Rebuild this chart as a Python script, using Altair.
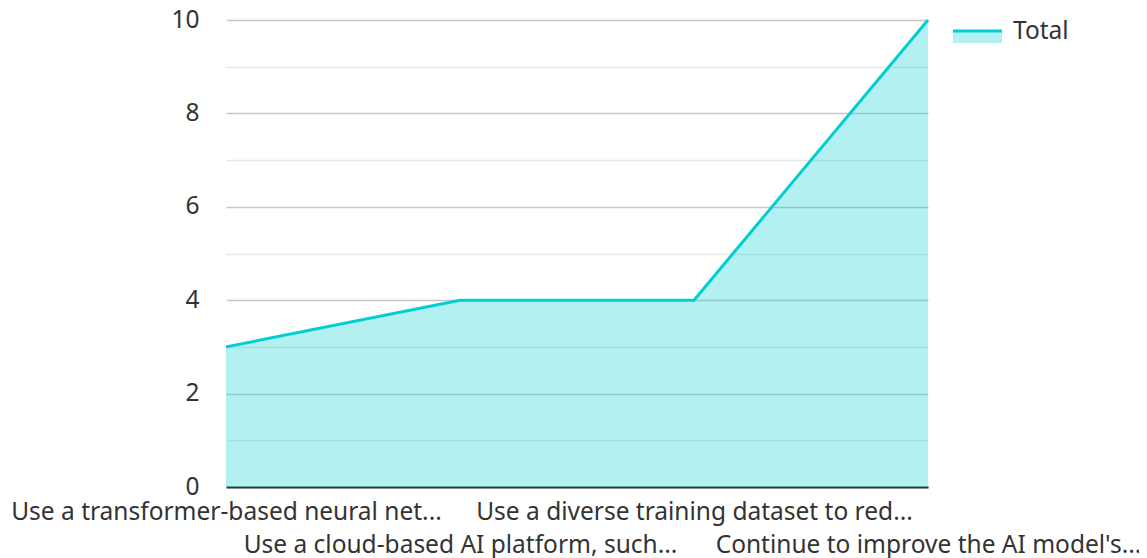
import json
import altair as alt
import pandas as pd

categories = [
    "Use a transformer-based neural net...",
    "Use a cloud-based AI platform, such...",
    "Use a diverse training dataset to red...",
    "Continue to improve the AI model's...",
]
totals = [3, 4, 4, 10]
series_name = "Total"
y_ticks = list(range(0, 11))

df = pd.DataFrame({"category": categories, "value": totals})
second_row = [c for i, c in enumerate(categories) if i % 2 == 1]

LINE = "#00CED1"
FONT = "Noto Sans"
FS = 24.5

x_enc = alt.X(
    "category:N",
    sort=categories,
    scale=alt.Scale(type="point", padding=0),
    axis=alt.Axis(
        title=None,
        labelAngle=0,
        labelAlign="center",
        labelOverlap=False,
        labelFontSize=FS,
        labelColor="#333333",
        labelFont=FONT,
        labelPadding=13,
        labelLimit=1000,
        labelLineHeight=33,
        labelExpr=f"indexof({json.dumps(second_row)}, datum.value) >= 0 ? ['', datum.label] : datum.label",
        ticks=False,
        grid=False,
        domainColor="#333333",
        domainWidth=2,
    ),
)
y_enc = alt.Y(
    "value:Q",
    scale=alt.Scale(domain=[0, 10], nice=False),
    axis=alt.Axis(
        title=None,
        values=y_ticks,
        labelExpr="datum.value % 2 === 0 ? datum.label : ''",
        labelFontSize=FS,
        labelColor="#333333",
        labelFont=FONT,
        labelPadding=27,
        ticks=False,
        domain=False,
        gridColor={"condition": {"test": "datum.value % 2 === 0", "value": "#c8c8c8"}, "value": "#e8e8e8"},
        gridWidth=1.5,
    ),
)

area = alt.Chart(df).mark_area(color=LINE, opacity=0.3).encode(x=x_enc, y=y_enc)
line = alt.Chart(df).mark_line(color=LINE, strokeWidth=3).encode(x=x_enc, y=y_enc)

leg = pd.DataFrame({"label": [series_name]})
leg_area = alt.Chart(leg).mark_rect(color=LINE, opacity=0.3).encode(
    x=alt.value(727), x2=alt.value(776), y=alt.value(11), y2=alt.value(23)
)
leg_line = alt.Chart(leg).mark_rule(color=LINE, strokeWidth=3).encode(
    x=alt.value(727), x2=alt.value(776), y=alt.value(11)
)
leg_text = alt.Chart(leg).mark_text(
    align="left", baseline="middle", fontSize=FS, font=FONT, color="#333333"
).encode(x=alt.value(787), y=alt.value(12), text="label:N")

chart = (
    alt.layer(area, line, leg_area, leg_line, leg_text)
    .properties(
        width=702,
        height=467,
        autosize=alt.AutoSizeParams(type="none"),
        padding={"left": 218, "top": 12, "right": 211, "bottom": 71},
    )
    .configure_view(stroke=None)
)

chart.save("out.html", embed_options={"renderer": "svg", "actions": False})
